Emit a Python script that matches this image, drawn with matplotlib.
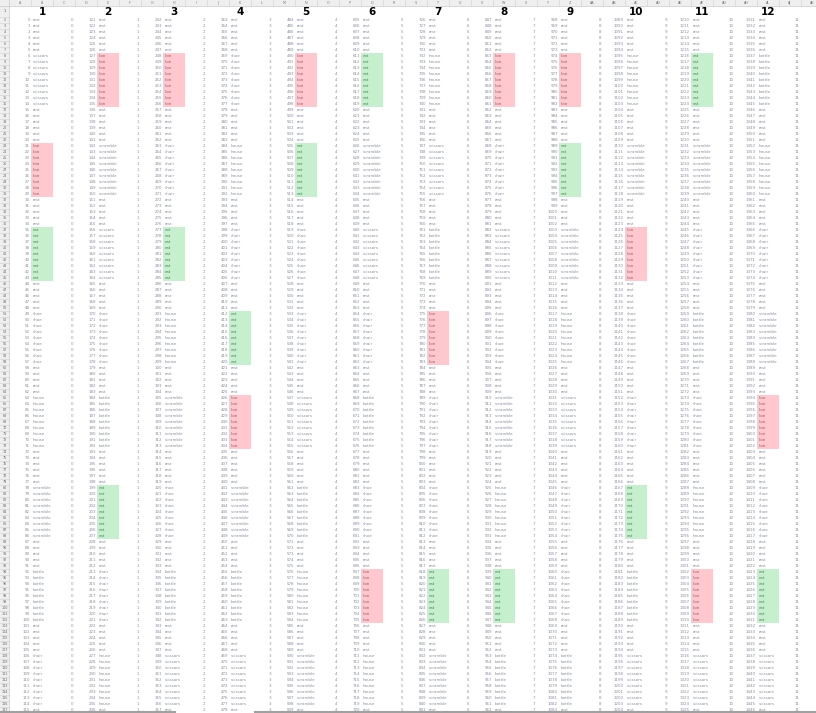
import matplotlib
matplotlib.use("Agg")
import matplotlib.pyplot as plt
from matplotlib.patches import Rectangle

group_titles = [str(i) for i in range(1, 13)]
group_size = 121
rows_shown = 116
block_offsets = [6, 21, 35, 49, 63, 78, 92, 106]
block_len = 9
task_orders = [
    ["scissors", "lion", "cat", "shoe", "house", "scramble", "bottle", "chair"],
    ["lion", "scramble", "scissors", "shoe", "bottle", "cat", "chair", "house"],
    ["lion", "chair", "cat", "house", "scramble", "shoe", "bottle", "scissors"],
    ["shoe", "house", "chair", "cat", "lion", "scramble", "bottle", "scissors"],
    ["lion", "cat", "shoe", "chair", "scissors", "bottle", "house", "scramble"],
    ["cat", "scramble", "scissors", "chair", "bottle", "shoe", "lion", "house"],
    ["house", "scissors", "bottle", "lion", "chair", "shoe", "cat", "scramble"],
    ["lion", "chair", "scissors", "shoe", "scramble", "house", "cat", "bottle"],
    ["lion", "cat", "scramble", "house", "scissors", "chair", "shoe", "bottle"],
    ["house", "scramble", "lion", "shoe", "chair", "cat", "bottle", "scissors"],
    ["cat", "scramble", "chair", "bottle", "shoe", "house", "lion", "scissors"],
    ["bottle", "house", "chair", "scramble", "lion", "shoe", "cat", "scissors"],
]
col_letters = ["A","B","C","D","E","F","G","H","I","J","K","L","M","N","O","P","Q","R",
               "S","T","U","V","W","X","Y","Z","AA","AB","AC","AD","AE","AF","AG","AH","AI","AJ","AK"]

W, H = 816, 713
fig = plt.figure(figsize=(W/100, H/100), dpi=100)
ax = fig.add_axes([0, 0, 1, 1])
ax.set_xlim(0, W); ax.set_ylim(H, 0); ax.axis("off")

rowhdr_w = 9
col_w = 22
hdr_h = 6
row1_h = 11
row_h = 6.0
row2_top = hdr_h + row1_h
txt = "#8a8fa0"
fs = 2.9

ax.add_patch(Rectangle((0, 0), W, hdr_h, fc="#efefef", ec="none"))
ax.add_patch(Rectangle((0, 0), rowhdr_w, H, fc="#efefef", ec="none"))
ax.plot([0, W], [hdr_h, hdr_h], color="#c8c8c8", lw=0.5)
ax.plot([rowhdr_w, rowhdr_w], [0, H], color="#c8c8c8", lw=0.5)
for c, letter in enumerate(col_letters):
    x0 = rowhdr_w + c * col_w
    if x0 > W: break
    ax.plot([x0, x0], [0, hdr_h], color="#d0d0d0", lw=0.4)
    ax.text(x0 + col_w/2, hdr_h/2, letter, fontsize=2.4, color="#777", ha="center", va="center")
ax.text(rowhdr_w/2, hdr_h + row1_h/2, "1", fontsize=2.6, color="#555", ha="center", va="center")
ax.plot([0, rowhdr_w], [row2_top, row2_top], color="#d0d0d0", lw=0.4)
for i in range(rows_shown):
    y0 = row2_top + i*row_h
    ax.plot([0, rowhdr_w], [y0+row_h, y0+row_h], color="#d0d0d0", lw=0.4)
    ax.text(rowhdr_w/2, y0+row_h/2, str(i+2), fontsize=2.4, color="#666", ha="center", va="center")

fills = {"lion": ("#ffc7ce", "#b0505a"), "cat": ("#c6efce", "#3c8a4a")}

for g, order in enumerate(task_orders):
    xnum = rowhdr_w + (3*g) * col_w
    xlab = xnum + col_w
    xidx = xlab + col_w
    ax.text(xlab + col_w/2, hdr_h + row1_h/2 + 0.5, group_titles[g], fontsize=7.5,
            fontweight="bold", ha="center", va="center", color="black")
    labels = ["rest"] * rows_shown
    for off, task in zip(block_offsets, order):
        for j in range(off, min(off + block_len, rows_shown)):
            labels[j] = task
    for off, task in zip(block_offsets, order):
        if task in fills and off < rows_shown:
            n = min(block_len, rows_shown - off)
            ax.add_patch(Rectangle((xlab, row2_top + off*row_h), col_w, n*row_h,
                                   fc=fills[task][0], ec="none"))
    for i in range(rows_shown):
        yc = row2_top + i*row_h + row_h/2
        lab = labels[i]
        tc = fills[lab][1] if lab in fills else txt
        ax.text(xlab - 1, yc, str(g*group_size + i), fontsize=fs, color=txt, ha="right", va="center")
        ax.text(xlab + 1.5, yc, lab, fontsize=fs, color=tc, ha="left", va="center")
        ax.text(xidx + col_w - 1.5, yc, str(g), fontsize=fs, color=txt, ha="right", va="center")

ax.plot([0, 175], [H-1, H-1], color="#a0a0a0", lw=1.5)
ax.plot([255, W], [H-1, H-1], color="#a0a0a0", lw=1.5)
fig.savefig("out.png", dpi=100)
